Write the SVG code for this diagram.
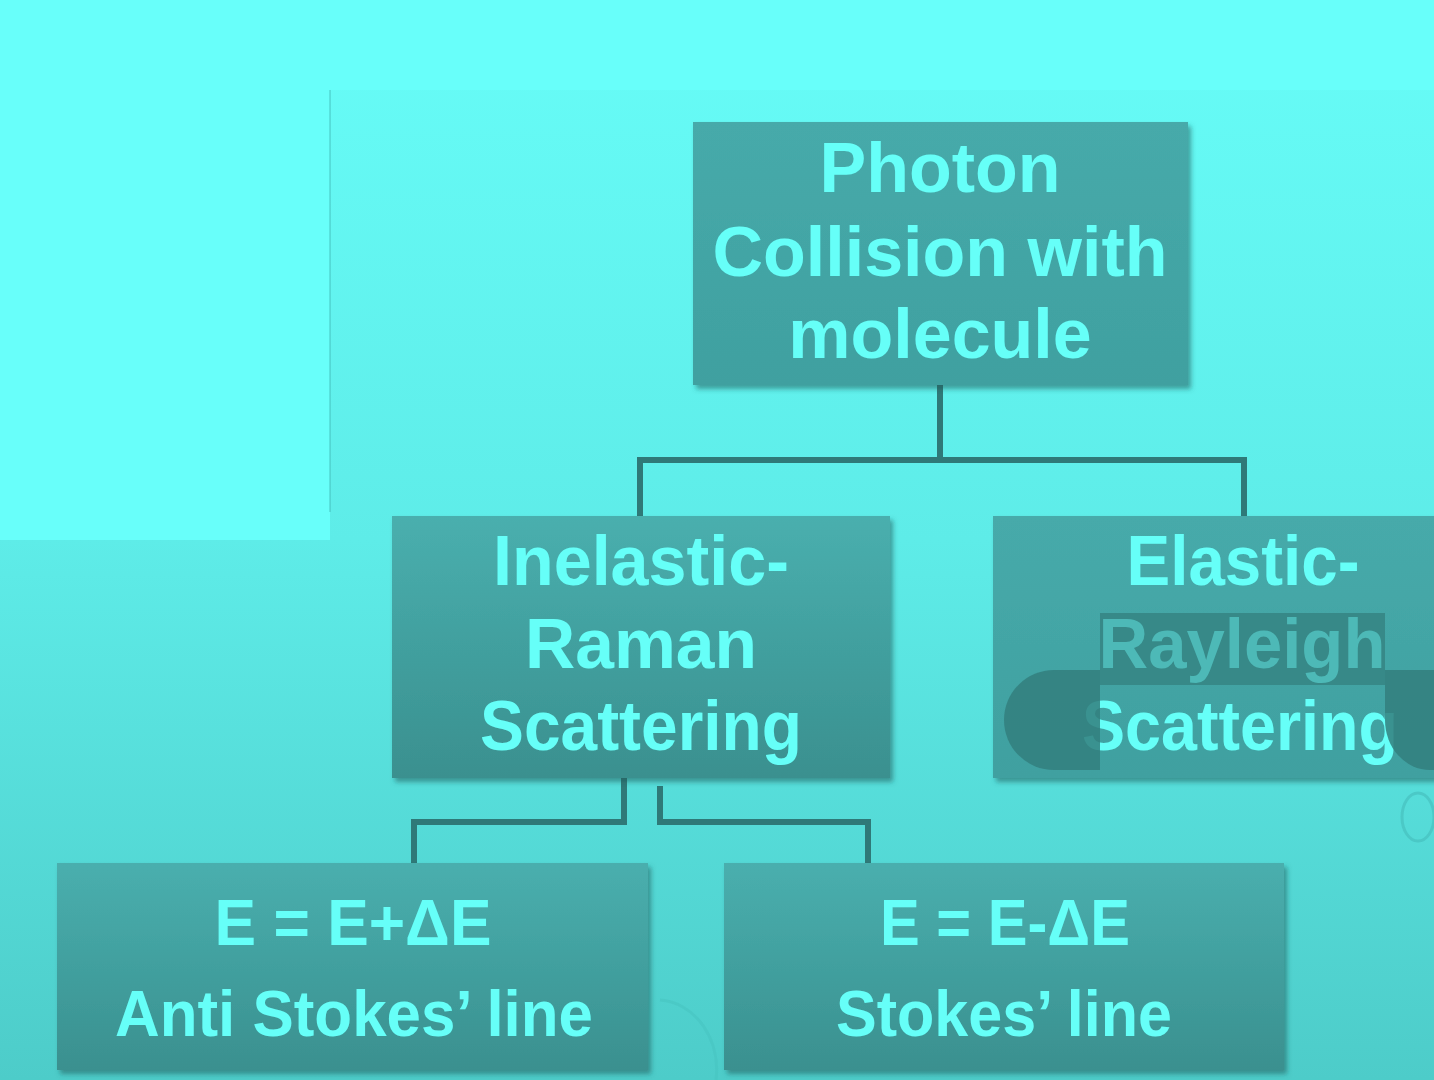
<svg xmlns="http://www.w3.org/2000/svg" width="1434" height="1080" viewBox="0 0 1434 1080">
<defs>
<linearGradient id="bg" x1="0" y1="0" x2="0" y2="1">
<stop offset="0" stop-color="#67FDF8"/>
<stop offset="0.5" stop-color="#5EECE8"/>
<stop offset="1" stop-color="#4DCCC9"/>
</linearGradient>
<linearGradient id="box" x1="0" y1="0" x2="0" y2="1">
<stop offset="0" stop-color="#49AFAE"/>
<stop offset="1" stop-color="#3A908F"/>
</linearGradient>
<linearGradient id="boxflat" x1="0" y1="0" x2="0" y2="1">
<stop offset="0" stop-color="#46AAAA"/>
<stop offset="1" stop-color="#40A0A0"/>
</linearGradient>
<filter id="sh" x="-5%" y="-5%" width="110%" height="115%">
<feDropShadow dx="3" dy="4" stdDeviation="2.5" flood-color="#1E5A59" flood-opacity="0.55"/>
</filter>
<style>
.box{fill:url(#box);filter:url(#sh);}
.flat{fill:url(#boxflat);}
.t{font-family:"Liberation Sans",Arial,sans-serif;font-weight:bold;fill:#66FFF8;text-anchor:middle;}
.big{font-size:70px;}
.mid{font-size:64px;}
.con{fill:none;stroke:#2F7978;stroke-width:6;stroke-linejoin:miter;}
</style>
</defs>
<rect x="0" y="0" width="1434" height="1080" fill="url(#bg)"/>
<rect x="0" y="0" width="1434" height="90" fill="#68FFFA"/>
<rect x="0" y="0" width="330" height="540" fill="#68FFFA"/>
<line x1="330" y1="90" x2="330" y2="512" stroke="#3FB5B2" stroke-width="0.8"/>
<ellipse cx="1418" cy="817" rx="16" ry="24" fill="none" stroke="#45BDBA" stroke-width="3" opacity="0.6"/>
<path d="M660 1000 A 60 70 0 0 1 716 1080" fill="none" stroke="#48C4C1" stroke-width="3" opacity="0.6"/>

<g id="connectors">
<path class="con" d="M940 385 V460"/>
<path class="con" d="M640 516 V460 H1244 V516"/>
<path class="con" d="M624 778 V822 H414 V863"/>
<path class="con" d="M660 786 V822 H868 V863"/>
</g>

<g id="photon">
<rect class="box flat" x="693" y="122" width="495" height="263"/>
<text class="t big" x="940" y="192">Photon</text>
<text class="t big" x="940" y="276" textLength="455" lengthAdjust="spacingAndGlyphs">Collision with</text>
<text class="t big" x="940" y="358">molecule</text>
</g>

<g id="inelastic">
<rect class="box" x="392" y="516" width="498" height="262"/>
<text class="t big" x="641" y="585" textLength="296" lengthAdjust="spacingAndGlyphs">Inelastic-</text>
<text class="t big" x="641" y="668" textLength="232" lengthAdjust="spacingAndGlyphs">Raman</text>
<text class="t big" x="641" y="750" textLength="322" lengthAdjust="spacingAndGlyphs">Scattering</text>
</g>

<g id="elastic">
<rect class="box flat" x="993" y="516" width="460" height="262"/>
<rect x="1100" y="613" width="285" height="72" fill="#378988"/>
<text class="t big" x="1243" y="585" textLength="233" lengthAdjust="spacingAndGlyphs">Elastic-</text>
<text class="t big" x="1242" y="668" textLength="287" lengthAdjust="spacingAndGlyphs" style="fill:#4DB9B7">Rayleigh</text>
<text class="t big" x="1240" y="750" textLength="316" lengthAdjust="spacingAndGlyphs">Scattering</text>
<path d="M1100 670 H1054 A50 50 0 0 0 1054 770 H1100 Z" fill="#327F7E" opacity="0.85"/>
<path d="M1385 670 H1434 V770 H1430 A45 50 0 0 1 1385 720 Z" fill="#327F7E" opacity="0.85"/>
</g>

<g id="antistokes">
<rect class="box" x="57" y="863" width="591" height="207"/>
<text class="t mid" x="353" y="945" textLength="277" lengthAdjust="spacingAndGlyphs">E = E+ΔE</text>
<text class="t mid" x="354" y="1036" textLength="478" lengthAdjust="spacingAndGlyphs">Anti Stokes’ line</text>
</g>

<g id="stokes">
<rect class="box" x="724" y="863" width="560" height="207"/>
<text class="t mid" x="1005" y="945" textLength="250" lengthAdjust="spacingAndGlyphs">E = E-ΔE</text>
<text class="t mid" x="1004" y="1036" textLength="336" lengthAdjust="spacingAndGlyphs">Stokes’ line</text>
</g>
</svg>
